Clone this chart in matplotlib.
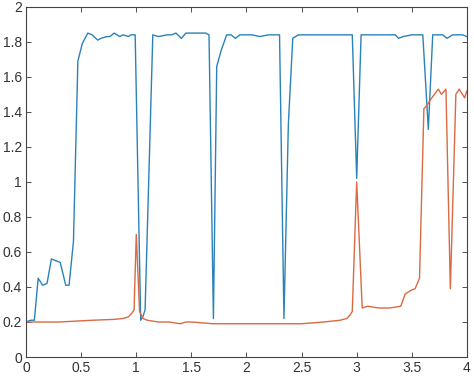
import matplotlib
matplotlib.use("Agg")
import matplotlib.pyplot as plt

plt.rcParams["font.family"] = ["Liberation Sans", "DejaVu Sans"]

# blue trace
x_blue = [0.00, 0.04, 0.075, 0.11, 0.15, 0.19, 0.23, 0.27, 0.31, 0.36, 0.39, 0.43,
          0.47, 0.51, 0.56, 0.60, 0.65, 0.68, 0.73, 0.76, 0.80, 0.85, 0.88, 0.93,
          0.95, 0.99, 1.04, 1.06, 1.08, 1.15, 1.20, 1.28, 1.32, 1.36, 1.41, 1.45,
          1.50, 1.55, 1.63, 1.66, 1.70, 1.73, 1.77, 1.82, 1.86, 1.90, 1.94, 2.00,
          2.05, 2.12, 2.20, 2.26, 2.30, 2.34, 2.38, 2.42, 2.47, 2.60, 2.80, 2.96,
          3.00, 3.04, 3.10, 3.20, 3.30, 3.35, 3.38, 3.42, 3.50, 3.60, 3.65, 3.69,
          3.74, 3.78, 3.82, 3.87, 3.92, 3.96, 4.00]
y_blue = [0.20, 0.21, 0.21, 0.45, 0.41, 0.42, 0.56, 0.55, 0.54, 0.41, 0.41, 0.66,
          1.69, 1.79, 1.85, 1.84, 1.81, 1.82, 1.83, 1.83, 1.85, 1.83, 1.84, 1.83,
          1.84, 1.84, 0.21, 0.23, 0.27, 1.84, 1.83, 1.84, 1.84, 1.85, 1.82, 1.85,
          1.85, 1.85, 1.85, 1.84, 0.22, 1.66, 1.75, 1.84, 1.84, 1.82, 1.84, 1.84,
          1.84, 1.83, 1.84, 1.84, 1.84, 0.22, 1.33, 1.82, 1.84, 1.84, 1.84, 1.84,
          1.02, 1.84, 1.84, 1.84, 1.84, 1.84, 1.82, 1.83, 1.84, 1.84, 1.30, 1.84,
          1.84, 1.84, 1.82, 1.84, 1.84, 1.84, 1.83]

# orange trace
x_orange = [0.00, 0.30, 0.60, 0.80, 0.88, 0.93, 0.96, 0.98, 1.00, 1.03, 1.06, 1.10,
            1.20, 1.30, 1.40, 1.45, 1.50, 1.70, 2.00, 2.30, 2.50, 2.70, 2.85, 2.91,
            2.94, 2.96, 3.00, 3.05, 3.10, 3.20, 3.30, 3.40, 3.44, 3.49, 3.53, 3.57,
            3.61, 3.63, 3.67, 3.74, 3.77, 3.81, 3.85, 3.90, 3.93, 3.98, 4.00]
y_orange = [0.20, 0.20, 0.21, 0.215, 0.22, 0.23, 0.25, 0.27, 0.70, 0.26, 0.22, 0.21,
            0.20, 0.20, 0.19, 0.20, 0.20, 0.19, 0.19, 0.19, 0.19, 0.20, 0.21, 0.22,
            0.24, 0.26, 1.00, 0.28, 0.29, 0.28, 0.28, 0.29, 0.36, 0.38, 0.39, 0.45,
            1.42, 1.43, 1.47, 1.53, 1.50, 1.53, 0.39, 1.50, 1.53, 1.48, 1.52]

fig = plt.figure(figsize=(4.74, 3.79), dpi=100)
ax = fig.add_axes([0.055, 0.058, 0.930, 0.924])

ax.plot(x_blue, y_blue, color="#2a82b9", linewidth=1.0)
ax.plot(x_orange, y_orange, color="#d96a42", linewidth=1.0)

ax.set_xlim(0, 4)
ax.set_ylim(0, 2)
ax.set_xticks([0, 0.5, 1, 1.5, 2, 2.5, 3, 3.5, 4])
ax.set_xticklabels(["0", "0.5", "1", "1.5", "2", "2.5", "3", "3.5", "4"])
ax.set_yticks([0, 0.2, 0.4, 0.6, 0.8, 1, 1.2, 1.4, 1.6, 1.8, 2])
ax.set_yticklabels(["0", "0.2", "0.4", "0.6", "0.8", "1", "1.2", "1.4", "1.6", "1.8", "2"])

ax.tick_params(direction="in", top=True, right=True, length=3.5, width=0.6,
               labelsize=10, colors="#333333", pad=3)
for s in ax.spines.values():
    s.set_color("#444444")
    s.set_linewidth(0.8)

fig.savefig("out.png", dpi=100)
